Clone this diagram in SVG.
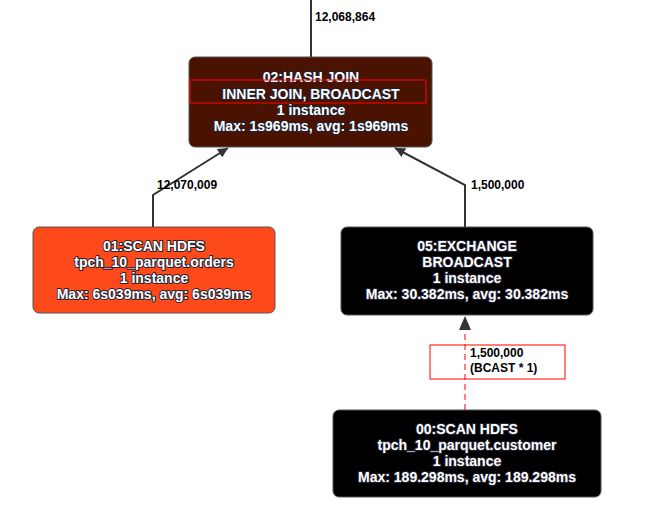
<svg xmlns="http://www.w3.org/2000/svg" width="663" height="518" viewBox="0 0 663 518">
<defs>
<style>
.n{stroke:#555;stroke-width:1}
.t{font-family:"Liberation Sans",Arial,sans-serif;font-weight:bold;font-size:14px;fill:#fff;text-anchor:middle;stroke:#223;stroke-width:2px;paint-order:stroke;stroke-linejoin:round}
.l{font-family:"Liberation Sans",Arial,sans-serif;font-weight:bold;font-size:12px;fill:#000}
.e{fill:none;stroke:#333;stroke-width:2}
</style>
<marker id="a" viewBox="0 0 10 10" refX="10" refY="5" markerWidth="5" markerHeight="5" orient="auto-start-reverse"><path d="M0,0L10,5L0,10z" fill="#333"/></marker>
</defs>
<rect width="663" height="518" fill="#fff"/>
<g id="edges">
<path class="e" d="M311,0V57"/>
<text class="l" x="315" y="21">12,068,864</text>
<path class="e" d="M153,227V195L228,148" marker-end="url(#a)"/>
<text class="l" x="157" y="189">12,070,009</text>
<path class="e" d="M465,227V185L395,148" marker-end="url(#a)"/>
<text class="l" x="471" y="189">1,500,000</text>
<path d="M465,410V322" stroke="#ff8080" stroke-width="2" stroke-dasharray="6,4" fill="none"/>
<path d="M459,330L465,316L471,330z" fill="#333"/>
<rect x="430" y="345" width="135" height="34" fill="none" stroke="#f00" stroke-width="1"/>
<text class="l" x="470" y="357">1,500,000</text>
<text class="l" x="470" y="372">(BCAST * 1)</text>
</g>
<g id="n02">
<rect class="n" x="189" y="57" width="243" height="90" rx="6" fill="#4a1200"/>
<text class="t" x="311" y="82">02:HASH JOIN</text>
<rect x="190" y="80" width="236" height="23" fill="none" stroke="#f00" stroke-width="1"/>
<text class="t" x="311" y="99">INNER JOIN, BROADCAST</text>
<text class="t" x="311" y="115">1 instance</text>
<text class="t" x="311" y="131">Max: 1s969ms, avg: 1s969ms</text>
</g>
<g id="n01">
<rect class="n" x="33" y="227" width="242" height="86" rx="6" fill="#fe4a1a"/>
<text class="t" x="154" y="251">01:SCAN HDFS</text>
<text class="t" x="154" y="267">tpch_10_parquet.orders</text>
<text class="t" x="154" y="283">1 instance</text>
<text class="t" x="154" y="299">Max: 6s039ms, avg: 6s039ms</text>
</g>
<g id="n05">
<rect class="n" x="341" y="227" width="252" height="88" rx="6" fill="#000"/>
<text class="t" x="467" y="251">05:EXCHANGE</text>
<text class="t" x="467" y="267">BROADCAST</text>
<text class="t" x="467" y="283">1 instance</text>
<text class="t" x="467" y="299">Max: 30.382ms, avg: 30.382ms</text>
</g>
<g id="n00">
<rect class="n" x="333" y="410" width="268" height="87" rx="6" fill="#000"/>
<text class="t" x="467" y="434">00:SCAN HDFS</text>
<text class="t" x="467" y="450">tpch_10_parquet.customer</text>
<text class="t" x="467" y="466">1 instance</text>
<text class="t" x="467" y="482">Max: 189.298ms, avg: 189.298ms</text>
</g>
</svg>
